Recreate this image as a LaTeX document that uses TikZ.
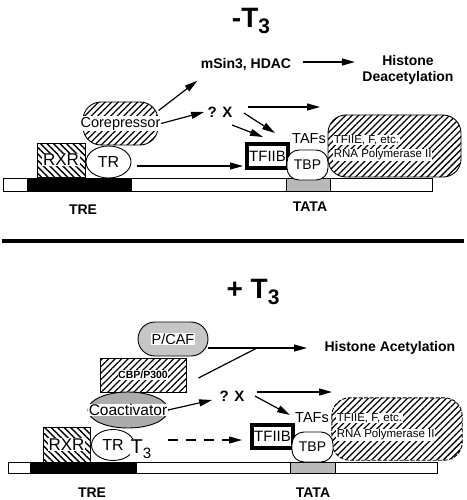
\documentclass[tikz,border=0pt]{standalone}
\usepackage{fontspec}
\setmainfont{Liberation Sans}
\usetikzlibrary{shapes.geometric,patterns.meta,arrows.meta,calc}
\newcommand{\tsub}[1]{\raisebox{-0.45ex}{\scalebox{0.75}{#1}}}
\newcommand{\fsz}[1]{\fontsize{#1}{#1}\selectfont}
\tikzset{
  factor/.style={draw, line width=0.9pt, inner sep=0pt, font=\fsz{14}},
  hatch/.style={pattern={Lines[angle=45,distance=4.6pt,line width=1.3pt]}},
  backhatch/.style={pattern={Lines[angle=-45,distance=4.6pt,line width=1.4pt]}},
  txt/.style={font=\fsz{14.5}, inner sep=0.6pt},
  small/.style={font=\fsz{11.5}, inner sep=0.6pt},
  label/.style={font=\bfseries\fontsize{14}{16}\selectfont},
  qmark/.style={font=\bfseries\fsz{15}},
  title/.style={font=\bfseries\fsz{28}},
  arrow/.style={-{Triangle[length=13pt,width=7pt]}, line width=1.2pt},
  dna/.style={draw, line width=0.9pt}
}
\begin{document}
\begin{tikzpicture}[x=1pt,y=-1pt]
  \useasboundingbox (0,0) rectangle (466,500);
  \node[title] (tminus) at (251,21) {-T\tsub{3}};
  \node[label] (msin) at (246,65) {mSin3, HDAC};
  \node[label, align=center] (hdeac) at (408,70) {Histone\\Deacetylation};
  \filldraw[dna, fill=white] (3,178) rectangle (432,191);
  \fill (27,178) rectangle (132,191);
  \filldraw[dna, fill=gray!55] (286,178) rectangle (330,191);
  \node[label] (tre) at (83,210) {TRE};
  \node[label] (tata) at (310,207) {TATA};
  \node[factor, hatch, rounded corners=18pt, minimum width=75pt, minimum height=43pt] (corep) at (120.5,123.5) {};
  \node[txt, fill=white] (coreptxt) at (corep) {Corepressor};
  \node[factor, backhatch, minimum width=48pt, minimum height=34pt] (rxr) at (61,160) {};
  \node[txt, font=\fsz{17}, fill=white] at (rxr) {RXR};
  \node[factor, ellipse, fill=white, font=\fsz{16}, minimum width=45pt, minimum height=32pt] (tr) at (108.5,162) {TR};
  \node[factor, hatch, rounded corners=18pt, minimum width=133pt, minimum height=62pt] (pol) at (394.5,146) {};
  \node[small, fill=white, anchor=west] (tfe) at (333,140) {TFIIE, F, etc.};
  \node[small, fill=white, anchor=west] (rna) at (333,155) {RNA Polymerase II};
  \node[factor, fill=white, font=\fsz{15}, line width=4pt, minimum width=41pt, minimum height=24pt] (tfiib) at (267.5,156) {TFIIB};
  \node[factor, fill=white, rounded corners=12pt, minimum width=41pt, minimum height=30pt] (tbp) at (307.5,165) {TBP};
  \node[txt] (tafs) at (309,139) {TAFs};
  \node[qmark] (qx) at (220,112) {? X};
  \coordinate (qxend) at (320,107);
  \draw[arrow] ($(corep.east)+(0,-13)$) -- ($(msin.south west)+(0,6)$);
  \draw[arrow] ($(msin.east)+(8,-3)$) -- ($(hdeac.west)+(-4,-8)$);
  \draw[arrow] (coreptxt.east) -- (qx.west);
  \draw[arrow] ($(qx.east)+(12,-5)$) -- (qxend);
  \draw[arrow] ($(qx.east)+(8,1)$) -- ($(tafs)+(-34,-6)$);
  \draw[arrow] ($(qx)+(12,13)$) -- ($(tfiib.north)+(-4.5,-5)$);
  \draw[arrow] ($(tr.east)+(6,4)$) -- ($(tfiib.west)+(-2,10)$);

  \draw[line width=4.5pt] (2,241) -- (464,241);

  \node[title] (tplus) at (253,292) {+ T\tsub{3}};
  \node[label, anchor=west] (hac) at (321,348) {Histone Acetylation};
  \filldraw[dna, fill=white] (8,462) rectangle (437,473);
  \fill (30,462) rectangle (137,473);
  \filldraw[dna, fill=gray!55] (290,462) rectangle (335,473);
  \node[label] (tre2) at (92,493) {TRE};
  \node[label] (tata2) at (313,493) {TATA};
  \node[factor, fill=gray!45, rounded corners=17pt, minimum width=70pt, minimum height=34pt] (pcaf) at (173,339) {};
  \node[txt, fill=white] at (pcaf) {P/CAF};
  \node[factor, hatch, minimum width=86pt, minimum height=34pt] (cbp) at (143,375) {};
  \node[font=\bfseries\fsz{10.5}, fill=white, inner sep=0.6pt] at (cbp) {CBP/P300};
  \node[factor, ellipse, fill=gray!65, minimum width=80pt, minimum height=36pt] (coact) at (128,410) {};
  \node[txt, font=\fsz{15.5}, fill=white] (coacttxt) at (coact) {Coactivator};
  \node[factor, backhatch, minimum width=47pt, minimum height=35pt] (rxr2) at (66.5,444.5) {};
  \node[txt, font=\fsz{17}, fill=white] at (rxr2) {RXR};
  \node[factor, ellipse, fill=white, font=\fsz{16}, minimum width=43pt, minimum height=31pt] (tr2) at (113,445) {TR};
  \node[font=\fsz{20}, fill=white, inner sep=0.5pt] (t3) at (141,449) {T\tsub{3}};
  \node[hatch, rounded corners=18pt, minimum width=130pt, minimum height=62pt] (pol2) at (397,429) {};
  \draw[line width=0.9pt, rounded corners=18pt, dash pattern=on 4pt off 1.5pt] (pol2.north west) rectangle (pol2.south east);
  \node[small, fill=white, anchor=west] (tfe2) at (336,418) {TFIIE, F, etc.};
  \node[small, fill=white, anchor=west] (rna2) at (336,435) {RNA Polymerase II};
  \node[factor, fill=white, font=\fsz{15}, line width=4pt, minimum width=41pt, minimum height=23pt] (tfiib2) at (272.5,436.5) {TFIIB};
  \node[factor, fill=white, rounded corners=12pt, minimum width=41pt, minimum height=30pt] (tbp2) at (312.5,447) {TBP};
  \node[txt] (tafs2) at (312,418) {TAFs};
  \node[qmark] (qx2) at (232,396) {? X};
  \coordinate (acj) at (257,348);
  \coordinate (qx2end) at (332,392);
  \draw[line width=1.2pt] ($(pcaf.east)+(0,9)$) -- (acj);
  \draw[line width=1.2pt] ($(cbp.east)+(12,3)$) -- (acj);
  \draw[arrow] (acj) -- ($(hac.west)+(-14,0)$);
  \draw[arrow] (coacttxt.east) -- ($(qx2.west)+(-4,4)$);
  \draw[arrow] ($(qx2.east)+(9,-4)$) -- (qx2end);
  \draw[arrow] ($(qx2.east)+(7,0)$) -- ($(tafs2)+(-22,-3)$);
  \draw[arrow, dash pattern=on 10pt off 8pt] ($(tr2.east)+(33,-5)$) -- ($(tfiib2.west)+(-8,3.5)$);
\end{tikzpicture}
\end{document}
